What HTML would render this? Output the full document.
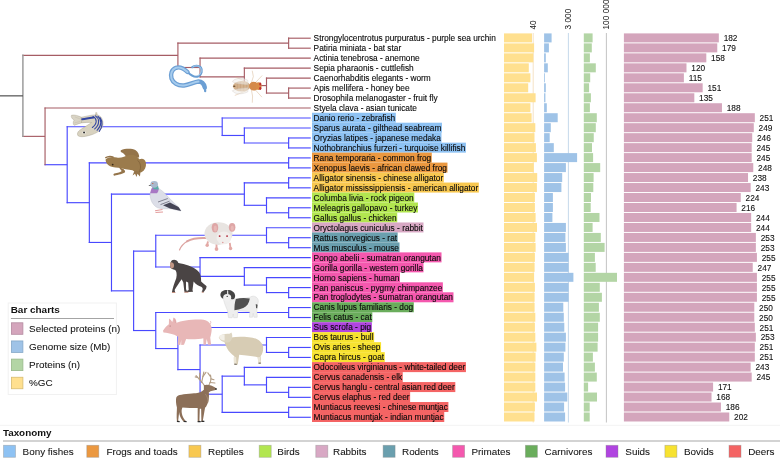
<!DOCTYPE html><html><head><meta charset="utf-8"><style>html,body{margin:0;padding:0;background:#fff;width:780px;height:462px;overflow:hidden}svg{display:block;will-change:transform}text{font-family:"Liberation Sans",sans-serif}</style></head><body>
<svg width="780" height="462" viewBox="0 0 780 462">
<line x1="288.06" y1="38.20" x2="310.80" y2="38.20" stroke="#a65c64" stroke-width="1.15"/>
<line x1="288.06" y1="48.18" x2="310.80" y2="48.18" stroke="#a65c64" stroke-width="1.15"/>
<line x1="288.64" y1="37.62" x2="288.64" y2="48.75" stroke="#a65c64" stroke-width="1.15"/>
<line x1="177.34" y1="43.19" x2="288.64" y2="43.19" stroke="#a65c64" stroke-width="1.15"/>
<line x1="199.49" y1="58.15" x2="310.80" y2="58.15" stroke="#a65c64" stroke-width="1.15"/>
<line x1="243.78" y1="68.13" x2="310.80" y2="68.13" stroke="#a65c64" stroke-width="1.15"/>
<line x1="265.92" y1="78.10" x2="310.80" y2="78.10" stroke="#a65c64" stroke-width="1.15"/>
<line x1="288.06" y1="88.08" x2="310.80" y2="88.08" stroke="#a65c64" stroke-width="1.15"/>
<line x1="288.06" y1="98.06" x2="310.80" y2="98.06" stroke="#a65c64" stroke-width="1.15"/>
<line x1="288.64" y1="87.50" x2="288.64" y2="98.63" stroke="#a65c64" stroke-width="1.15"/>
<line x1="265.92" y1="93.07" x2="288.64" y2="93.07" stroke="#a65c64" stroke-width="1.15"/>
<line x1="266.50" y1="77.53" x2="266.50" y2="93.64" stroke="#a65c64" stroke-width="1.15"/>
<line x1="243.78" y1="85.59" x2="266.50" y2="85.59" stroke="#a65c64" stroke-width="1.15"/>
<line x1="244.35" y1="67.55" x2="244.35" y2="86.16" stroke="#a65c64" stroke-width="1.15"/>
<line x1="199.49" y1="76.86" x2="244.35" y2="76.86" stroke="#a65c64" stroke-width="1.15"/>
<line x1="200.06" y1="57.58" x2="200.06" y2="77.43" stroke="#a65c64" stroke-width="1.15"/>
<line x1="177.34" y1="67.50" x2="200.06" y2="67.50" stroke="#a65c64" stroke-width="1.15"/>
<line x1="177.91" y1="42.61" x2="177.91" y2="68.08" stroke="#a65c64" stroke-width="1.15"/>
<line x1="22.32" y1="55.35" x2="177.91" y2="55.35" stroke="#a65c64" stroke-width="1.15"/>
<line x1="44.47" y1="108.03" x2="310.80" y2="108.03" stroke="#a65c64" stroke-width="1.15"/>
<line x1="221.63" y1="118.01" x2="310.80" y2="118.01" stroke="#4848ff" stroke-width="1.15"/>
<line x1="243.78" y1="127.98" x2="310.80" y2="127.98" stroke="#4848ff" stroke-width="1.15"/>
<line x1="288.06" y1="137.96" x2="310.80" y2="137.96" stroke="#4848ff" stroke-width="1.15"/>
<line x1="288.06" y1="147.94" x2="310.80" y2="147.94" stroke="#4848ff" stroke-width="1.15"/>
<line x1="288.64" y1="137.39" x2="288.64" y2="148.51" stroke="#4848ff" stroke-width="1.15"/>
<line x1="243.78" y1="142.95" x2="288.64" y2="142.95" stroke="#4848ff" stroke-width="1.15"/>
<line x1="244.35" y1="127.41" x2="244.35" y2="143.52" stroke="#4848ff" stroke-width="1.15"/>
<line x1="221.63" y1="135.47" x2="244.35" y2="135.47" stroke="#4848ff" stroke-width="1.15"/>
<line x1="222.21" y1="117.43" x2="222.21" y2="136.04" stroke="#4848ff" stroke-width="1.15"/>
<line x1="66.61" y1="126.74" x2="222.21" y2="126.74" stroke="#4848ff" stroke-width="1.15"/>
<line x1="288.06" y1="157.91" x2="310.80" y2="157.91" stroke="#4848ff" stroke-width="1.15"/>
<line x1="288.06" y1="167.89" x2="310.80" y2="167.89" stroke="#4848ff" stroke-width="1.15"/>
<line x1="288.64" y1="157.34" x2="288.64" y2="168.46" stroke="#4848ff" stroke-width="1.15"/>
<line x1="88.76" y1="162.90" x2="288.64" y2="162.90" stroke="#4848ff" stroke-width="1.15"/>
<line x1="288.06" y1="177.86" x2="310.80" y2="177.86" stroke="#4848ff" stroke-width="1.15"/>
<line x1="288.06" y1="187.84" x2="310.80" y2="187.84" stroke="#4848ff" stroke-width="1.15"/>
<line x1="288.64" y1="177.29" x2="288.64" y2="188.42" stroke="#4848ff" stroke-width="1.15"/>
<line x1="243.78" y1="182.85" x2="288.64" y2="182.85" stroke="#4848ff" stroke-width="1.15"/>
<line x1="265.92" y1="197.82" x2="310.80" y2="197.82" stroke="#4848ff" stroke-width="1.15"/>
<line x1="288.06" y1="207.79" x2="310.80" y2="207.79" stroke="#4848ff" stroke-width="1.15"/>
<line x1="288.06" y1="217.77" x2="310.80" y2="217.77" stroke="#4848ff" stroke-width="1.15"/>
<line x1="288.64" y1="207.22" x2="288.64" y2="218.34" stroke="#4848ff" stroke-width="1.15"/>
<line x1="265.92" y1="212.78" x2="288.64" y2="212.78" stroke="#4848ff" stroke-width="1.15"/>
<line x1="266.50" y1="197.24" x2="266.50" y2="213.36" stroke="#4848ff" stroke-width="1.15"/>
<line x1="243.78" y1="205.30" x2="266.50" y2="205.30" stroke="#4848ff" stroke-width="1.15"/>
<line x1="244.35" y1="182.28" x2="244.35" y2="205.87" stroke="#4848ff" stroke-width="1.15"/>
<line x1="110.90" y1="194.08" x2="244.35" y2="194.08" stroke="#4848ff" stroke-width="1.15"/>
<line x1="265.92" y1="227.74" x2="310.80" y2="227.74" stroke="#4848ff" stroke-width="1.15"/>
<line x1="288.06" y1="237.72" x2="310.80" y2="237.72" stroke="#4848ff" stroke-width="1.15"/>
<line x1="288.06" y1="247.70" x2="310.80" y2="247.70" stroke="#4848ff" stroke-width="1.15"/>
<line x1="288.64" y1="237.15" x2="288.64" y2="248.27" stroke="#4848ff" stroke-width="1.15"/>
<line x1="265.92" y1="242.71" x2="288.64" y2="242.71" stroke="#4848ff" stroke-width="1.15"/>
<line x1="266.50" y1="227.17" x2="266.50" y2="243.28" stroke="#4848ff" stroke-width="1.15"/>
<line x1="155.20" y1="235.23" x2="266.50" y2="235.23" stroke="#4848ff" stroke-width="1.15"/>
<line x1="199.49" y1="257.67" x2="310.80" y2="257.67" stroke="#4848ff" stroke-width="1.15"/>
<line x1="243.78" y1="267.65" x2="310.80" y2="267.65" stroke="#4848ff" stroke-width="1.15"/>
<line x1="265.92" y1="277.62" x2="310.80" y2="277.62" stroke="#4848ff" stroke-width="1.15"/>
<line x1="288.06" y1="287.60" x2="310.80" y2="287.60" stroke="#4848ff" stroke-width="1.15"/>
<line x1="288.06" y1="297.58" x2="310.80" y2="297.58" stroke="#4848ff" stroke-width="1.15"/>
<line x1="288.64" y1="287.03" x2="288.64" y2="298.15" stroke="#4848ff" stroke-width="1.15"/>
<line x1="265.92" y1="292.59" x2="288.64" y2="292.59" stroke="#4848ff" stroke-width="1.15"/>
<line x1="266.50" y1="277.05" x2="266.50" y2="293.16" stroke="#4848ff" stroke-width="1.15"/>
<line x1="243.78" y1="285.11" x2="266.50" y2="285.11" stroke="#4848ff" stroke-width="1.15"/>
<line x1="244.35" y1="267.07" x2="244.35" y2="285.68" stroke="#4848ff" stroke-width="1.15"/>
<line x1="199.49" y1="276.38" x2="244.35" y2="276.38" stroke="#4848ff" stroke-width="1.15"/>
<line x1="200.06" y1="257.10" x2="200.06" y2="276.95" stroke="#4848ff" stroke-width="1.15"/>
<line x1="155.20" y1="267.02" x2="200.06" y2="267.02" stroke="#4848ff" stroke-width="1.15"/>
<line x1="155.77" y1="234.65" x2="155.77" y2="267.60" stroke="#4848ff" stroke-width="1.15"/>
<line x1="133.05" y1="251.13" x2="155.77" y2="251.13" stroke="#4848ff" stroke-width="1.15"/>
<line x1="288.06" y1="307.55" x2="310.80" y2="307.55" stroke="#4848ff" stroke-width="1.15"/>
<line x1="288.06" y1="317.53" x2="310.80" y2="317.53" stroke="#4848ff" stroke-width="1.15"/>
<line x1="288.64" y1="306.98" x2="288.64" y2="318.10" stroke="#4848ff" stroke-width="1.15"/>
<line x1="155.20" y1="312.54" x2="288.64" y2="312.54" stroke="#4848ff" stroke-width="1.15"/>
<line x1="177.34" y1="327.50" x2="310.80" y2="327.50" stroke="#4848ff" stroke-width="1.15"/>
<line x1="265.92" y1="337.48" x2="310.80" y2="337.48" stroke="#4848ff" stroke-width="1.15"/>
<line x1="288.06" y1="347.46" x2="310.80" y2="347.46" stroke="#4848ff" stroke-width="1.15"/>
<line x1="288.06" y1="357.43" x2="310.80" y2="357.43" stroke="#4848ff" stroke-width="1.15"/>
<line x1="288.64" y1="346.88" x2="288.64" y2="358.01" stroke="#4848ff" stroke-width="1.15"/>
<line x1="265.92" y1="352.44" x2="288.64" y2="352.44" stroke="#4848ff" stroke-width="1.15"/>
<line x1="266.50" y1="336.91" x2="266.50" y2="353.02" stroke="#4848ff" stroke-width="1.15"/>
<line x1="199.49" y1="344.96" x2="266.50" y2="344.96" stroke="#4848ff" stroke-width="1.15"/>
<line x1="243.78" y1="367.41" x2="310.80" y2="367.41" stroke="#4848ff" stroke-width="1.15"/>
<line x1="265.92" y1="377.38" x2="310.80" y2="377.38" stroke="#4848ff" stroke-width="1.15"/>
<line x1="288.06" y1="387.36" x2="310.80" y2="387.36" stroke="#4848ff" stroke-width="1.15"/>
<line x1="288.06" y1="397.34" x2="310.80" y2="397.34" stroke="#4848ff" stroke-width="1.15"/>
<line x1="288.64" y1="386.79" x2="288.64" y2="397.91" stroke="#4848ff" stroke-width="1.15"/>
<line x1="265.92" y1="392.35" x2="288.64" y2="392.35" stroke="#4848ff" stroke-width="1.15"/>
<line x1="266.50" y1="376.81" x2="266.50" y2="392.92" stroke="#4848ff" stroke-width="1.15"/>
<line x1="243.78" y1="384.87" x2="266.50" y2="384.87" stroke="#4848ff" stroke-width="1.15"/>
<line x1="244.35" y1="366.83" x2="244.35" y2="385.44" stroke="#4848ff" stroke-width="1.15"/>
<line x1="221.63" y1="376.14" x2="244.35" y2="376.14" stroke="#4848ff" stroke-width="1.15"/>
<line x1="288.06" y1="407.31" x2="310.80" y2="407.31" stroke="#4848ff" stroke-width="1.15"/>
<line x1="288.06" y1="417.29" x2="310.80" y2="417.29" stroke="#4848ff" stroke-width="1.15"/>
<line x1="288.64" y1="406.74" x2="288.64" y2="417.86" stroke="#4848ff" stroke-width="1.15"/>
<line x1="221.63" y1="412.30" x2="288.64" y2="412.30" stroke="#4848ff" stroke-width="1.15"/>
<line x1="222.21" y1="375.56" x2="222.21" y2="412.88" stroke="#4848ff" stroke-width="1.15"/>
<line x1="199.49" y1="394.22" x2="222.21" y2="394.22" stroke="#4848ff" stroke-width="1.15"/>
<line x1="200.06" y1="344.39" x2="200.06" y2="394.79" stroke="#4848ff" stroke-width="1.15"/>
<line x1="177.34" y1="369.59" x2="200.06" y2="369.59" stroke="#4848ff" stroke-width="1.15"/>
<line x1="177.91" y1="326.93" x2="177.91" y2="370.17" stroke="#4848ff" stroke-width="1.15"/>
<line x1="155.20" y1="348.55" x2="177.91" y2="348.55" stroke="#4848ff" stroke-width="1.15"/>
<line x1="155.77" y1="311.97" x2="155.77" y2="349.12" stroke="#4848ff" stroke-width="1.15"/>
<line x1="133.05" y1="330.54" x2="155.77" y2="330.54" stroke="#4848ff" stroke-width="1.15"/>
<line x1="133.62" y1="250.55" x2="133.62" y2="331.12" stroke="#4848ff" stroke-width="1.15"/>
<line x1="110.90" y1="290.83" x2="133.62" y2="290.83" stroke="#4848ff" stroke-width="1.15"/>
<line x1="111.48" y1="193.50" x2="111.48" y2="291.41" stroke="#4848ff" stroke-width="1.15"/>
<line x1="88.76" y1="242.45" x2="111.48" y2="242.45" stroke="#4848ff" stroke-width="1.15"/>
<line x1="89.34" y1="162.33" x2="89.34" y2="243.03" stroke="#4848ff" stroke-width="1.15"/>
<line x1="66.61" y1="202.68" x2="89.34" y2="202.68" stroke="#4848ff" stroke-width="1.15"/>
<line x1="67.19" y1="126.16" x2="67.19" y2="203.25" stroke="#4848ff" stroke-width="1.15"/>
<line x1="44.47" y1="164.71" x2="67.19" y2="164.71" stroke="#4848ff" stroke-width="1.15"/>
<line x1="45.05" y1="107.46" x2="45.05" y2="165.28" stroke="#a65c64" stroke-width="1.15"/>
<line x1="22.32" y1="136.37" x2="45.05" y2="136.37" stroke="#a65c64" stroke-width="1.15"/>
<line x1="22.90" y1="54.60" x2="22.90" y2="137.12" stroke="#9c9c9c" stroke-width="1.5"/>
<line x1="-0.57" y1="95.86" x2="22.90" y2="95.86" stroke="#484848" stroke-width="1.15"/>
<rect x="312" y="112.72" width="83.83" height="10.00" fill="#8ec2f3"/>
<rect x="312" y="122.70" width="129.97" height="10.00" fill="#8ec2f3"/>
<rect x="312" y="132.67" width="129.48" height="10.00" fill="#8ec2f3"/>
<rect x="312" y="142.65" width="153.92" height="10.00" fill="#8ec2f3"/>
<rect x="312" y="152.62" width="119.79" height="10.00" fill="#eb9840"/>
<rect x="312" y="162.60" width="135.48" height="10.00" fill="#eb9840"/>
<rect x="312" y="172.58" width="131.79" height="10.00" fill="#f8c850"/>
<rect x="312" y="182.55" width="166.82" height="10.00" fill="#f8c850"/>
<rect x="312" y="192.53" width="102.28" height="10.00" fill="#b2e650"/>
<rect x="312" y="202.50" width="105.97" height="10.00" fill="#b2e650"/>
<rect x="312" y="212.48" width="85.22" height="10.00" fill="#b2e650"/>
<rect x="312" y="222.46" width="111.50" height="10.00" fill="#d8a8c4"/>
<rect x="312" y="232.43" width="85.67" height="10.00" fill="#6a9fae"/>
<rect x="312" y="242.41" width="87.51" height="10.00" fill="#6a9fae"/>
<rect x="312" y="252.38" width="129.51" height="10.00" fill="#f458ae"/>
<rect x="312" y="262.36" width="111.50" height="10.00" fill="#f458ae"/>
<rect x="312" y="272.34" width="87.98" height="10.00" fill="#f458ae"/>
<rect x="312" y="282.31" width="130.87" height="10.00" fill="#f458ae"/>
<rect x="312" y="292.29" width="141.50" height="10.00" fill="#f458ae"/>
<rect x="312" y="302.26" width="101.81" height="10.00" fill="#6aad5c"/>
<rect x="312" y="312.24" width="60.31" height="10.00" fill="#6aad5c"/>
<rect x="312" y="322.22" width="59.86" height="10.00" fill="#b044e0"/>
<rect x="312" y="332.19" width="62.15" height="10.00" fill="#f7e230"/>
<rect x="312" y="342.17" width="69.08" height="10.00" fill="#f7e230"/>
<rect x="312" y="352.14" width="72.76" height="10.00" fill="#f7e230"/>
<rect x="312" y="362.12" width="153.93" height="10.00" fill="#f46464"/>
<rect x="312" y="372.10" width="90.75" height="10.00" fill="#f46464"/>
<rect x="312" y="382.07" width="143.32" height="10.00" fill="#f46464"/>
<rect x="312" y="392.05" width="98.14" height="10.00" fill="#f46464"/>
<rect x="312" y="402.02" width="136.40" height="10.00" fill="#f46464"/>
<rect x="312" y="412.00" width="132.25" height="10.00" fill="#f46464"/>
<text x="313.6" y="41.10" font-size="8.3" fill="#0a0a0a" stroke="#0a0a0a" stroke-width="0.12">Strongylocentrotus purpuratus - purple sea urchin</text>
<text x="313.6" y="51.08" font-size="8.3" fill="#0a0a0a" stroke="#0a0a0a" stroke-width="0.12">Patiria miniata - bat star</text>
<text x="313.6" y="61.05" font-size="8.3" fill="#0a0a0a" stroke="#0a0a0a" stroke-width="0.12">Actinia tenebrosa - anemone</text>
<text x="313.6" y="71.03" font-size="8.3" fill="#0a0a0a" stroke="#0a0a0a" stroke-width="0.12">Sepia pharaonis - cuttlefish</text>
<text x="313.6" y="81.00" font-size="8.3" fill="#0a0a0a" stroke="#0a0a0a" stroke-width="0.12">Caenorhabditis elegants - worm</text>
<text x="313.6" y="90.98" font-size="8.3" fill="#0a0a0a" stroke="#0a0a0a" stroke-width="0.12">Apis mellifera - honey bee</text>
<text x="313.6" y="100.96" font-size="8.3" fill="#0a0a0a" stroke="#0a0a0a" stroke-width="0.12">Drosophila melanogaster - fruit fly</text>
<text x="313.6" y="110.93" font-size="8.3" fill="#0a0a0a" stroke="#0a0a0a" stroke-width="0.12">Styela clava - asian tunicate</text>
<text x="313.6" y="120.91" font-size="8.3" fill="#0a0a0a" stroke="#0a0a0a" stroke-width="0.12">Danio rerio - zebrafish</text>
<text x="313.6" y="130.88" font-size="8.3" fill="#0a0a0a" stroke="#0a0a0a" stroke-width="0.12">Sparus aurata - gilthead seabream</text>
<text x="313.6" y="140.86" font-size="8.3" fill="#0a0a0a" stroke="#0a0a0a" stroke-width="0.12">Oryzias latipes - japanese medaka</text>
<text x="313.6" y="150.84" font-size="8.3" fill="#0a0a0a" stroke="#0a0a0a" stroke-width="0.12">Nothobranchius furzeri - turquoise killifish</text>
<text x="313.6" y="160.81" font-size="8.3" fill="#0a0a0a" stroke="#0a0a0a" stroke-width="0.12">Rana temporaria - common frog</text>
<text x="313.6" y="170.79" font-size="8.3" fill="#0a0a0a" stroke="#0a0a0a" stroke-width="0.12">Xenopus laevis - african clawed frog</text>
<text x="313.6" y="180.76" font-size="8.3" fill="#0a0a0a" stroke="#0a0a0a" stroke-width="0.12">Alligator sinensis - chinese alligator</text>
<text x="313.6" y="190.74" font-size="8.3" fill="#0a0a0a" stroke="#0a0a0a" stroke-width="0.12">Alligator mississippiensis - american alligator</text>
<text x="313.6" y="200.72" font-size="8.3" fill="#0a0a0a" stroke="#0a0a0a" stroke-width="0.12">Columba livia - rock pigeon</text>
<text x="313.6" y="210.69" font-size="8.3" fill="#0a0a0a" stroke="#0a0a0a" stroke-width="0.12">Meleagris gallopavo - turkey</text>
<text x="313.6" y="220.67" font-size="8.3" fill="#0a0a0a" stroke="#0a0a0a" stroke-width="0.12">Gallus gallus - chicken</text>
<text x="313.6" y="230.64" font-size="8.3" fill="#0a0a0a" stroke="#0a0a0a" stroke-width="0.12">Oryctolagus cuniculus - rabbit</text>
<text x="313.6" y="240.62" font-size="8.3" fill="#0a0a0a" stroke="#0a0a0a" stroke-width="0.12">Rattus norvegicus - rat</text>
<text x="313.6" y="250.60" font-size="8.3" fill="#0a0a0a" stroke="#0a0a0a" stroke-width="0.12">Mus musculus - mouse</text>
<text x="313.6" y="260.57" font-size="8.3" fill="#0a0a0a" stroke="#0a0a0a" stroke-width="0.12">Pongo abelii - sumatran orangutan</text>
<text x="313.6" y="270.55" font-size="8.3" fill="#0a0a0a" stroke="#0a0a0a" stroke-width="0.12">Gorilla gorilla - western gorilla</text>
<text x="313.6" y="280.52" font-size="8.3" fill="#0a0a0a" stroke="#0a0a0a" stroke-width="0.12">Homo sapiens - human</text>
<text x="313.6" y="290.50" font-size="8.3" fill="#0a0a0a" stroke="#0a0a0a" stroke-width="0.12">Pan paniscus - pygmy chimpanzee</text>
<text x="313.6" y="300.48" font-size="8.3" fill="#0a0a0a" stroke="#0a0a0a" stroke-width="0.12">Pan troglodytes - sumatran orangutan</text>
<text x="313.6" y="310.45" font-size="8.3" fill="#0a0a0a" stroke="#0a0a0a" stroke-width="0.12">Canis lupus familiaris - dog</text>
<text x="313.6" y="320.43" font-size="8.3" fill="#0a0a0a" stroke="#0a0a0a" stroke-width="0.12">Felis catus - cat</text>
<text x="313.6" y="330.40" font-size="8.3" fill="#0a0a0a" stroke="#0a0a0a" stroke-width="0.12">Sus scrofa - pig</text>
<text x="313.6" y="340.38" font-size="8.3" fill="#0a0a0a" stroke="#0a0a0a" stroke-width="0.12">Bos taurus - bull</text>
<text x="313.6" y="350.36" font-size="8.3" fill="#0a0a0a" stroke="#0a0a0a" stroke-width="0.12">Ovis aries - sheep</text>
<text x="313.6" y="360.33" font-size="8.3" fill="#0a0a0a" stroke="#0a0a0a" stroke-width="0.12">Capra hircus - goat</text>
<text x="313.6" y="370.31" font-size="8.3" fill="#0a0a0a" stroke="#0a0a0a" stroke-width="0.12">Odocoileus virginianus - white-tailed deer</text>
<text x="313.6" y="380.28" font-size="8.3" fill="#0a0a0a" stroke="#0a0a0a" stroke-width="0.12">Cervus canadensis - elk</text>
<text x="313.6" y="390.26" font-size="8.3" fill="#0a0a0a" stroke="#0a0a0a" stroke-width="0.12">Cervus hanglu - central asian red deer</text>
<text x="313.6" y="400.24" font-size="8.3" fill="#0a0a0a" stroke="#0a0a0a" stroke-width="0.12">Cervus elaphus - red deer</text>
<text x="313.6" y="410.21" font-size="8.3" fill="#0a0a0a" stroke="#0a0a0a" stroke-width="0.12">Muntiacus reevesi - chinese muntjac</text>
<text x="313.6" y="420.19" font-size="8.3" fill="#0a0a0a" stroke="#0a0a0a" stroke-width="0.12">Muntiacus muntjak - indian muntjac</text>
<line x1="533.2" y1="33" x2="533.2" y2="422.5" stroke="#f2dcb8" stroke-width="0.8"/>
<line x1="568.4" y1="33" x2="568.4" y2="422.5" stroke="#b8cfe6" stroke-width="0.8"/>
<line x1="606.4" y1="33" x2="606.4" y2="422.5" stroke="#b5b5b5" stroke-width="0.8"/>
<rect x="504" y="33.40" width="28.00" height="9.0" fill="#ffe08f"/>
<rect x="544.1" y="33.40" width="7.50" height="9.0" fill="#9fc3e7"/>
<rect x="583.8" y="33.40" width="8.80" height="9.0" fill="#b3d5a5"/>
<rect x="623.9" y="33.40" width="94.93" height="9.0" fill="#d4a5bc"/>
<text x="723.63" y="41.20" font-size="8.3" fill="#111" stroke="#111" stroke-width="0.1">182</text>
<rect x="504" y="43.38" width="30.10" height="9.0" fill="#ffe08f"/>
<rect x="544.1" y="43.38" width="4.80" height="9.0" fill="#9fc3e7"/>
<rect x="583.8" y="43.38" width="8.00" height="9.0" fill="#b3d5a5"/>
<rect x="623.9" y="43.38" width="93.37" height="9.0" fill="#d4a5bc"/>
<text x="722.07" y="51.18" font-size="8.3" fill="#111" stroke="#111" stroke-width="0.1">179</text>
<rect x="504" y="53.35" width="29.30" height="9.0" fill="#ffe08f"/>
<rect x="544.1" y="53.35" width="1.70" height="9.0" fill="#9fc3e7"/>
<rect x="583.8" y="53.35" width="6.10" height="9.0" fill="#b3d5a5"/>
<rect x="623.9" y="53.35" width="82.41" height="9.0" fill="#d4a5bc"/>
<text x="711.11" y="61.15" font-size="8.3" fill="#111" stroke="#111" stroke-width="0.1">158</text>
<rect x="504" y="63.33" width="24.80" height="9.0" fill="#ffe08f"/>
<rect x="544.1" y="63.33" width="3.70" height="9.0" fill="#9fc3e7"/>
<rect x="583.8" y="63.33" width="12.00" height="9.0" fill="#b3d5a5"/>
<rect x="623.9" y="63.33" width="62.59" height="9.0" fill="#d4a5bc"/>
<text x="691.29" y="71.13" font-size="8.3" fill="#111" stroke="#111" stroke-width="0.1">120</text>
<rect x="504" y="73.30" width="26.40" height="9.0" fill="#ffe08f"/>
<rect x="544.1" y="73.30" width="0.80" height="9.0" fill="#9fc3e7"/>
<rect x="583.8" y="73.30" width="6.40" height="9.0" fill="#b3d5a5"/>
<rect x="623.9" y="73.30" width="59.98" height="9.0" fill="#d4a5bc"/>
<text x="688.68" y="81.10" font-size="8.3" fill="#111" stroke="#111" stroke-width="0.1">115</text>
<rect x="504" y="83.28" width="24.20" height="9.0" fill="#ffe08f"/>
<rect x="544.1" y="83.28" width="1.70" height="9.0" fill="#9fc3e7"/>
<rect x="583.8" y="83.28" width="5.30" height="9.0" fill="#b3d5a5"/>
<rect x="623.9" y="83.28" width="78.76" height="9.0" fill="#d4a5bc"/>
<text x="707.46" y="91.08" font-size="8.3" fill="#111" stroke="#111" stroke-width="0.1">151</text>
<rect x="504" y="93.26" width="31.60" height="9.0" fill="#ffe08f"/>
<rect x="544.1" y="93.26" width="1.30" height="9.0" fill="#9fc3e7"/>
<rect x="583.8" y="93.26" width="7.10" height="9.0" fill="#b3d5a5"/>
<rect x="623.9" y="93.26" width="70.42" height="9.0" fill="#d4a5bc"/>
<text x="699.12" y="101.06" font-size="8.3" fill="#111" stroke="#111" stroke-width="0.1">135</text>
<rect x="504" y="103.23" width="26.40" height="9.0" fill="#ffe08f"/>
<rect x="544.1" y="103.23" width="2.70" height="9.0" fill="#9fc3e7"/>
<rect x="583.8" y="103.23" width="6.10" height="9.0" fill="#b3d5a5"/>
<rect x="623.9" y="103.23" width="98.06" height="9.0" fill="#d4a5bc"/>
<text x="726.76" y="111.03" font-size="8.3" fill="#111" stroke="#111" stroke-width="0.1">188</text>
<rect x="504" y="113.21" width="27.60" height="9.0" fill="#ffe08f"/>
<rect x="544.1" y="113.21" width="13.60" height="9.0" fill="#9fc3e7"/>
<rect x="583.8" y="113.21" width="13.00" height="9.0" fill="#b3d5a5"/>
<rect x="623.9" y="113.21" width="130.92" height="9.0" fill="#d4a5bc"/>
<text x="759.62" y="121.01" font-size="8.3" fill="#111" stroke="#111" stroke-width="0.1">251</text>
<rect x="504" y="123.18" width="31.30" height="9.0" fill="#ffe08f"/>
<rect x="544.1" y="123.18" width="6.70" height="9.0" fill="#9fc3e7"/>
<rect x="583.8" y="123.18" width="12.00" height="9.0" fill="#b3d5a5"/>
<rect x="623.9" y="123.18" width="129.88" height="9.0" fill="#d4a5bc"/>
<text x="758.58" y="130.98" font-size="8.3" fill="#111" stroke="#111" stroke-width="0.1">249</text>
<rect x="504" y="133.16" width="30.50" height="9.0" fill="#ffe08f"/>
<rect x="544.1" y="133.16" width="5.60" height="9.0" fill="#9fc3e7"/>
<rect x="583.8" y="133.16" width="9.95" height="9.0" fill="#b3d5a5"/>
<rect x="623.9" y="133.16" width="128.31" height="9.0" fill="#d4a5bc"/>
<text x="757.01" y="140.96" font-size="8.3" fill="#111" stroke="#111" stroke-width="0.1">246</text>
<rect x="504" y="143.14" width="31.90" height="9.0" fill="#ffe08f"/>
<rect x="544.1" y="143.14" width="9.70" height="9.0" fill="#9fc3e7"/>
<rect x="583.8" y="143.14" width="8.20" height="9.0" fill="#b3d5a5"/>
<rect x="623.9" y="143.14" width="127.79" height="9.0" fill="#d4a5bc"/>
<text x="756.49" y="150.94" font-size="8.3" fill="#111" stroke="#111" stroke-width="0.1">245</text>
<rect x="504" y="153.11" width="32.90" height="9.0" fill="#ffe08f"/>
<rect x="544.1" y="153.11" width="33.00" height="9.0" fill="#9fc3e7"/>
<rect x="583.8" y="153.11" width="9.30" height="9.0" fill="#b3d5a5"/>
<rect x="623.9" y="153.11" width="127.79" height="9.0" fill="#d4a5bc"/>
<text x="756.49" y="160.91" font-size="8.3" fill="#111" stroke="#111" stroke-width="0.1">245</text>
<rect x="504" y="163.09" width="29.80" height="9.0" fill="#ffe08f"/>
<rect x="544.1" y="163.09" width="21.80" height="9.0" fill="#9fc3e7"/>
<rect x="583.8" y="163.09" width="16.40" height="9.0" fill="#b3d5a5"/>
<rect x="623.9" y="163.09" width="129.36" height="9.0" fill="#d4a5bc"/>
<text x="758.06" y="170.89" font-size="8.3" fill="#111" stroke="#111" stroke-width="0.1">248</text>
<rect x="504" y="173.06" width="33.20" height="9.0" fill="#ffe08f"/>
<rect x="544.1" y="173.06" width="18.10" height="9.0" fill="#9fc3e7"/>
<rect x="583.8" y="173.06" width="9.80" height="9.0" fill="#b3d5a5"/>
<rect x="623.9" y="173.06" width="124.14" height="9.0" fill="#d4a5bc"/>
<text x="752.84" y="180.86" font-size="8.3" fill="#111" stroke="#111" stroke-width="0.1">238</text>
<rect x="504" y="183.04" width="32.90" height="9.0" fill="#ffe08f"/>
<rect x="544.1" y="183.04" width="17.30" height="9.0" fill="#9fc3e7"/>
<rect x="583.8" y="183.04" width="9.50" height="9.0" fill="#b3d5a5"/>
<rect x="623.9" y="183.04" width="126.75" height="9.0" fill="#d4a5bc"/>
<text x="755.45" y="190.84" font-size="8.3" fill="#111" stroke="#111" stroke-width="0.1">243</text>
<rect x="504" y="193.02" width="30.90" height="9.0" fill="#ffe08f"/>
<rect x="544.1" y="193.02" width="8.80" height="9.0" fill="#9fc3e7"/>
<rect x="583.8" y="193.02" width="7.20" height="9.0" fill="#b3d5a5"/>
<rect x="623.9" y="193.02" width="116.84" height="9.0" fill="#d4a5bc"/>
<text x="745.54" y="200.82" font-size="8.3" fill="#111" stroke="#111" stroke-width="0.1">224</text>
<rect x="504" y="202.99" width="30.90" height="9.0" fill="#ffe08f"/>
<rect x="544.1" y="202.99" width="8.80" height="9.0" fill="#9fc3e7"/>
<rect x="583.8" y="202.99" width="6.90" height="9.0" fill="#b3d5a5"/>
<rect x="623.9" y="202.99" width="112.67" height="9.0" fill="#d4a5bc"/>
<text x="741.37" y="210.79" font-size="8.3" fill="#111" stroke="#111" stroke-width="0.1">216</text>
<rect x="504" y="212.97" width="31.60" height="9.0" fill="#ffe08f"/>
<rect x="544.1" y="212.97" width="8.30" height="9.0" fill="#9fc3e7"/>
<rect x="583.8" y="212.97" width="15.70" height="9.0" fill="#b3d5a5"/>
<rect x="623.9" y="212.97" width="127.27" height="9.0" fill="#d4a5bc"/>
<text x="755.97" y="220.77" font-size="8.3" fill="#111" stroke="#111" stroke-width="0.1">244</text>
<rect x="504" y="222.94" width="33.00" height="9.0" fill="#ffe08f"/>
<rect x="544.1" y="222.94" width="21.80" height="9.0" fill="#9fc3e7"/>
<rect x="583.8" y="222.94" width="8.80" height="9.0" fill="#b3d5a5"/>
<rect x="623.9" y="222.94" width="127.27" height="9.0" fill="#d4a5bc"/>
<text x="755.97" y="230.74" font-size="8.3" fill="#111" stroke="#111" stroke-width="0.1">244</text>
<rect x="504" y="232.92" width="31.30" height="9.0" fill="#ffe08f"/>
<rect x="544.1" y="232.92" width="21.30" height="9.0" fill="#9fc3e7"/>
<rect x="583.8" y="232.92" width="17.00" height="9.0" fill="#b3d5a5"/>
<rect x="623.9" y="232.92" width="131.96" height="9.0" fill="#d4a5bc"/>
<text x="760.66" y="240.72" font-size="8.3" fill="#111" stroke="#111" stroke-width="0.1">253</text>
<rect x="504" y="242.90" width="31.60" height="9.0" fill="#ffe08f"/>
<rect x="544.1" y="242.90" width="21.80" height="9.0" fill="#9fc3e7"/>
<rect x="583.8" y="242.90" width="20.80" height="9.0" fill="#b3d5a5"/>
<rect x="623.9" y="242.90" width="131.96" height="9.0" fill="#d4a5bc"/>
<text x="760.66" y="250.70" font-size="8.3" fill="#111" stroke="#111" stroke-width="0.1">253</text>
<rect x="504" y="252.87" width="30.90" height="9.0" fill="#ffe08f"/>
<rect x="544.1" y="252.87" width="24.50" height="9.0" fill="#9fc3e7"/>
<rect x="583.8" y="252.87" width="11.10" height="9.0" fill="#b3d5a5"/>
<rect x="623.9" y="252.87" width="133.01" height="9.0" fill="#d4a5bc"/>
<text x="761.71" y="260.67" font-size="8.3" fill="#111" stroke="#111" stroke-width="0.1">255</text>
<rect x="504" y="262.85" width="30.60" height="9.0" fill="#ffe08f"/>
<rect x="544.1" y="262.85" width="24.50" height="9.0" fill="#9fc3e7"/>
<rect x="583.8" y="262.85" width="11.90" height="9.0" fill="#b3d5a5"/>
<rect x="623.9" y="262.85" width="128.84" height="9.0" fill="#d4a5bc"/>
<text x="757.54" y="270.65" font-size="8.3" fill="#111" stroke="#111" stroke-width="0.1">247</text>
<rect x="504" y="272.82" width="30.10" height="9.0" fill="#ffe08f"/>
<rect x="544.1" y="272.82" width="29.30" height="9.0" fill="#9fc3e7"/>
<rect x="583.8" y="272.82" width="33.20" height="9.0" fill="#b3d5a5"/>
<rect x="623.9" y="272.82" width="133.01" height="9.0" fill="#d4a5bc"/>
<text x="761.71" y="280.62" font-size="8.3" fill="#111" stroke="#111" stroke-width="0.1">255</text>
<rect x="504" y="282.80" width="30.90" height="9.0" fill="#ffe08f"/>
<rect x="544.1" y="282.80" width="24.50" height="9.0" fill="#9fc3e7"/>
<rect x="583.8" y="282.80" width="16.00" height="9.0" fill="#b3d5a5"/>
<rect x="623.9" y="282.80" width="133.01" height="9.0" fill="#d4a5bc"/>
<text x="761.71" y="290.60" font-size="8.3" fill="#111" stroke="#111" stroke-width="0.1">255</text>
<rect x="504" y="292.78" width="30.60" height="9.0" fill="#ffe08f"/>
<rect x="544.1" y="292.78" width="24.50" height="9.0" fill="#9fc3e7"/>
<rect x="583.8" y="292.78" width="18.10" height="9.0" fill="#b3d5a5"/>
<rect x="623.9" y="292.78" width="133.01" height="9.0" fill="#d4a5bc"/>
<text x="761.71" y="300.58" font-size="8.3" fill="#111" stroke="#111" stroke-width="0.1">255</text>
<rect x="504" y="302.75" width="30.60" height="9.0" fill="#ffe08f"/>
<rect x="544.1" y="302.75" width="19.20" height="9.0" fill="#9fc3e7"/>
<rect x="583.8" y="302.75" width="15.10" height="9.0" fill="#b3d5a5"/>
<rect x="623.9" y="302.75" width="130.40" height="9.0" fill="#d4a5bc"/>
<text x="759.10" y="310.55" font-size="8.3" fill="#111" stroke="#111" stroke-width="0.1">250</text>
<rect x="504" y="312.73" width="31.30" height="9.0" fill="#ffe08f"/>
<rect x="544.1" y="312.73" width="19.70" height="9.0" fill="#9fc3e7"/>
<rect x="583.8" y="312.73" width="16.00" height="9.0" fill="#b3d5a5"/>
<rect x="623.9" y="312.73" width="130.40" height="9.0" fill="#d4a5bc"/>
<text x="759.10" y="320.53" font-size="8.3" fill="#111" stroke="#111" stroke-width="0.1">250</text>
<rect x="504" y="322.70" width="30.90" height="9.0" fill="#ffe08f"/>
<rect x="544.1" y="322.70" width="20.20" height="9.0" fill="#9fc3e7"/>
<rect x="583.8" y="322.70" width="14.30" height="9.0" fill="#b3d5a5"/>
<rect x="623.9" y="322.70" width="130.92" height="9.0" fill="#d4a5bc"/>
<text x="759.62" y="330.50" font-size="8.3" fill="#111" stroke="#111" stroke-width="0.1">251</text>
<rect x="504" y="332.68" width="31.30" height="9.0" fill="#ffe08f"/>
<rect x="544.1" y="332.68" width="21.80" height="9.0" fill="#9fc3e7"/>
<rect x="583.8" y="332.68" width="14.30" height="9.0" fill="#b3d5a5"/>
<rect x="623.9" y="332.68" width="131.96" height="9.0" fill="#d4a5bc"/>
<text x="760.66" y="340.48" font-size="8.3" fill="#111" stroke="#111" stroke-width="0.1">253</text>
<rect x="504" y="342.66" width="32.40" height="9.0" fill="#ffe08f"/>
<rect x="544.1" y="342.66" width="21.30" height="9.0" fill="#9fc3e7"/>
<rect x="583.8" y="342.66" width="13.80" height="9.0" fill="#b3d5a5"/>
<rect x="623.9" y="342.66" width="130.92" height="9.0" fill="#d4a5bc"/>
<text x="759.62" y="350.46" font-size="8.3" fill="#111" stroke="#111" stroke-width="0.1">251</text>
<rect x="504" y="352.63" width="31.60" height="9.0" fill="#ffe08f"/>
<rect x="544.1" y="352.63" width="19.70" height="9.0" fill="#9fc3e7"/>
<rect x="583.8" y="352.63" width="9.10" height="9.0" fill="#b3d5a5"/>
<rect x="623.9" y="352.63" width="130.92" height="9.0" fill="#d4a5bc"/>
<text x="759.62" y="360.43" font-size="8.3" fill="#111" stroke="#111" stroke-width="0.1">251</text>
<rect x="504" y="362.61" width="31.30" height="9.0" fill="#ffe08f"/>
<rect x="544.1" y="362.61" width="18.90" height="9.0" fill="#9fc3e7"/>
<rect x="583.8" y="362.61" width="11.10" height="9.0" fill="#b3d5a5"/>
<rect x="623.9" y="362.61" width="126.75" height="9.0" fill="#d4a5bc"/>
<text x="755.45" y="370.41" font-size="8.3" fill="#111" stroke="#111" stroke-width="0.1">243</text>
<rect x="504" y="372.58" width="31.30" height="9.0" fill="#ffe08f"/>
<rect x="544.1" y="372.58" width="20.50" height="9.0" fill="#9fc3e7"/>
<rect x="583.8" y="372.58" width="13.00" height="9.0" fill="#b3d5a5"/>
<rect x="623.9" y="372.58" width="127.79" height="9.0" fill="#d4a5bc"/>
<text x="756.49" y="380.38" font-size="8.3" fill="#111" stroke="#111" stroke-width="0.1">245</text>
<rect x="504" y="382.56" width="31.30" height="9.0" fill="#ffe08f"/>
<rect x="544.1" y="382.56" width="21.00" height="9.0" fill="#9fc3e7"/>
<rect x="583.8" y="382.56" width="4.30" height="9.0" fill="#b3d5a5"/>
<rect x="623.9" y="382.56" width="89.19" height="9.0" fill="#d4a5bc"/>
<text x="717.89" y="390.36" font-size="8.3" fill="#111" stroke="#111" stroke-width="0.1">171</text>
<rect x="504" y="392.54" width="33.00" height="9.0" fill="#ffe08f"/>
<rect x="544.1" y="392.54" width="23.20" height="9.0" fill="#9fc3e7"/>
<rect x="583.8" y="392.54" width="13.20" height="9.0" fill="#b3d5a5"/>
<rect x="623.9" y="392.54" width="87.63" height="9.0" fill="#d4a5bc"/>
<text x="716.33" y="400.34" font-size="8.3" fill="#111" stroke="#111" stroke-width="0.1">168</text>
<rect x="504" y="402.51" width="30.90" height="9.0" fill="#ffe08f"/>
<rect x="544.1" y="402.51" width="20.00" height="9.0" fill="#9fc3e7"/>
<rect x="583.8" y="402.51" width="5.90" height="9.0" fill="#b3d5a5"/>
<rect x="623.9" y="402.51" width="97.02" height="9.0" fill="#d4a5bc"/>
<text x="725.72" y="410.31" font-size="8.3" fill="#111" stroke="#111" stroke-width="0.1">186</text>
<rect x="504" y="412.49" width="30.50" height="9.0" fill="#ffe08f"/>
<rect x="544.1" y="412.49" width="21.00" height="9.0" fill="#9fc3e7"/>
<rect x="583.8" y="412.49" width="5.90" height="9.0" fill="#b3d5a5"/>
<rect x="623.9" y="412.49" width="105.36" height="9.0" fill="#d4a5bc"/>
<text x="734.06" y="420.29" font-size="8.3" fill="#111" stroke="#111" stroke-width="0.1">202</text>
<text transform="translate(536.20,29.5) rotate(-90)" font-size="8.3" fill="#222">40</text>
<text transform="translate(571.40,29.5) rotate(-90)" font-size="8.3" fill="#222">3 000</text>
<text transform="translate(609.40,29.5) rotate(-90)" font-size="8.3" fill="#222">100 000</text>
<line x1="0" y1="425.3" x2="780" y2="425.3" stroke="#f3f3f3" stroke-width="1"/>
<rect x="8.2" y="303" width="108.2" height="91.5" fill="#fff" stroke="#f1f1f1" stroke-width="1"/>
<text x="10.7" y="313.2" font-size="9.95" font-weight="bold" fill="#111">Bar charts</text>
<line x1="10.9" y1="318.5" x2="114" y2="318.5" stroke="#a4a4a4" stroke-width="1"/>
<rect x="11.4" y="322.80" width="11.5" height="11.5" fill="#d4a5bc" stroke="#b48aa0" stroke-width="0.8"/>
<text x="29.1" y="332.00" font-size="9.9" fill="#151515" stroke="#151515" stroke-width="0.08">Selected proteins (n)</text>
<rect x="11.4" y="340.95" width="11.5" height="11.5" fill="#9fc3e7" stroke="#85a8c8" stroke-width="0.8"/>
<text x="29.1" y="350.15" font-size="9.9" fill="#151515" stroke="#151515" stroke-width="0.08">Genome size (Mb)</text>
<rect x="11.4" y="359.10" width="11.5" height="11.5" fill="#b3d5a5" stroke="#98b88a" stroke-width="0.8"/>
<text x="29.1" y="368.30" font-size="9.9" fill="#151515" stroke="#151515" stroke-width="0.08">Proteins (n)</text>
<rect x="11.4" y="377.25" width="11.5" height="11.5" fill="#ffe08f" stroke="#d8bc70" stroke-width="0.8"/>
<text x="29.1" y="386.45" font-size="9.9" fill="#151515" stroke="#151515" stroke-width="0.08">%GC</text>
<text x="2.9" y="435.9" font-size="9.85" font-weight="bold" fill="#111">Taxonomy</text>
<line x1="3" y1="440.9" x2="780" y2="440.9" stroke="#c4c4c4" stroke-width="1.5"/>
<rect x="3.50" y="445.3" width="12" height="12" fill="#8ec2f3" stroke="#888" stroke-opacity="0.45" stroke-width="0.8"/>
<text x="22.60" y="455" font-size="9.9" fill="#151515" stroke="#151515" stroke-width="0.08">Bony fishes</text>
<rect x="86.80" y="445.3" width="12" height="12" fill="#eb9840" stroke="#888" stroke-opacity="0.45" stroke-width="0.8"/>
<text x="106.40" y="455" font-size="9.9" fill="#151515" stroke="#151515" stroke-width="0.08">Frogs and toads</text>
<rect x="188.90" y="445.3" width="12" height="12" fill="#f8c850" stroke="#888" stroke-opacity="0.45" stroke-width="0.8"/>
<text x="208.00" y="455" font-size="9.9" fill="#151515" stroke="#151515" stroke-width="0.08">Reptiles</text>
<rect x="259.20" y="445.3" width="12" height="12" fill="#b2e650" stroke="#888" stroke-opacity="0.45" stroke-width="0.8"/>
<text x="277.30" y="455" font-size="9.9" fill="#151515" stroke="#151515" stroke-width="0.08">Birds</text>
<rect x="315.80" y="445.3" width="12" height="12" fill="#d8a8c4" stroke="#888" stroke-opacity="0.45" stroke-width="0.8"/>
<text x="333.00" y="455" font-size="9.9" fill="#151515" stroke="#151515" stroke-width="0.08">Rabbits</text>
<rect x="383.10" y="445.3" width="12" height="12" fill="#6a9fae" stroke="#888" stroke-opacity="0.45" stroke-width="0.8"/>
<text x="402.00" y="455" font-size="9.9" fill="#151515" stroke="#151515" stroke-width="0.08">Rodents</text>
<rect x="452.60" y="445.3" width="12" height="12" fill="#f458ae" stroke="#888" stroke-opacity="0.45" stroke-width="0.8"/>
<text x="471.40" y="455" font-size="9.9" fill="#151515" stroke="#151515" stroke-width="0.08">Primates</text>
<rect x="525.40" y="445.3" width="12" height="12" fill="#6aad5c" stroke="#888" stroke-opacity="0.45" stroke-width="0.8"/>
<text x="544.60" y="455" font-size="9.9" fill="#151515" stroke="#151515" stroke-width="0.08">Carnivores</text>
<rect x="606.00" y="445.3" width="12" height="12" fill="#b044e0" stroke="#888" stroke-opacity="0.45" stroke-width="0.8"/>
<text x="625.30" y="455" font-size="9.9" fill="#151515" stroke="#151515" stroke-width="0.08">Suids</text>
<rect x="664.90" y="445.3" width="12" height="12" fill="#f7e230" stroke="#888" stroke-opacity="0.45" stroke-width="0.8"/>
<text x="684.00" y="455" font-size="9.9" fill="#151515" stroke="#151515" stroke-width="0.08">Bovids</text>
<rect x="729.00" y="445.3" width="12" height="12" fill="#f46464" stroke="#888" stroke-opacity="0.45" stroke-width="0.8"/>
<text x="748.20" y="455" font-size="9.9" fill="#151515" stroke="#151515" stroke-width="0.08">Deers</text>
<g id="worm" fill="none" stroke-linecap="round" stroke-linejoin="round">
<path d="M192.3,67.2 C194,65.8 198.5,64.8 200.8,67.5 C202.6,70 201.8,74.5 198.5,76.2 C195,77.8 191,75.5 187.5,72 C184,68.7 180,66.5 176,67.8 C171.5,69.5 170.2,74.5 171.5,78.5 C173,83 178,86 184,85.5 C189,85 194,82 198.5,81.5 C203,81.5 205.5,85 205.2,91.2" stroke="#6a9ed3" stroke-width="2.2"/>
<path d="M187.5,72 C184,68.7 180,66.5 176,67.8 C171.5,69.5 170.2,74.5 171.5,78.5 C173,83 178,86 184,85.5 C189,85 194,82 198.5,81.5 C202,81.5 204,84 204.8,87.5" stroke="#6c9fd4" stroke-width="4.4"/>
<path d="M187.5,72 C184,68.7 180,66.5 176,67.8 C171.5,69.5 170.2,74.5 171.5,78.5 C173,83 178,86 184,85.5 C189,85 194,82 198.5,81.5" stroke="#a6ccee" stroke-width="2.0"/>
<path d="M193,66.8 C195,65.6 198.5,65.2 200.5,67.8 C202,70.2 201.2,74 198.5,75.5" stroke="#b8d8f2" stroke-width="0.8"/>
</g>
<g id="fly" transform="translate(228,68) scale(0.07794)">
<g stroke="#d8b894" stroke-width="6.5" fill="none" stroke-linecap="round">
<path d="M300,190 L325,110 L312,40"/><path d="M350,190 L435,100"/><path d="M300,280 L315,360 L312,440"/><path d="M350,280 L432,370"/>
<path d="M240,180 L105,118"/><path d="M240,290 L92,350"/>
</g>
<ellipse cx="175" cy="234" rx="112" ry="66" fill="#d4b28d"/>
<path d="M120,182 L120,286 M160,176 L160,292 M200,176 L200,292 M240,182 L240,286" stroke="#c29c78" stroke-width="7"/>
<ellipse cx="80" cy="234" rx="16" ry="10" fill="#6e5030"/>
<path d="M55,175 C85,128 180,118 255,158 L255,212 C180,205 100,205 55,175 Z" fill="#f1eeeb" fill-opacity="0.55" stroke="#d3ccc6" stroke-width="5"/>
<path d="M55,292 C85,338 180,345 255,305 L255,252 C180,262 100,262 55,292 Z" fill="#f1eeeb" fill-opacity="0.55" stroke="#cfc8c2" stroke-width="5"/>
<ellipse cx="330" cy="232" rx="60" ry="56" fill="#d48a4a"/>
<ellipse cx="393" cy="232" rx="38" ry="50" fill="#d98c46"/>
<ellipse cx="414" cy="205" rx="14" ry="20" fill="#c02e30"/>
<ellipse cx="414" cy="261" rx="14" ry="20" fill="#c02e30"/>
</g>
<g id="fish" transform="translate(68,108) scale(0.06920)">
<path d="M195,135 C150,110 90,95 50,105 C40,130 60,160 90,175 C70,195 70,240 90,250 C130,235 170,220 195,215 Z" fill="#d9d4c5" stroke="#aaa390" stroke-width="6"/>
<path d="M100,130 L180,160 M95,215 L175,195" stroke="#c0b9a6" stroke-width="6"/>
<path d="M390,100 L400,58 L422,66 L428,108 Z" fill="#cfc8b5"/>
<path d="M190,135 C260,120 350,95 420,100 C480,110 510,170 505,240 C500,300 440,350 360,380 C290,405 210,425 160,410 C125,395 130,350 170,320 C230,280 300,240 340,210 C300,205 240,210 195,215 Z" fill="#d8d2c0" stroke="#a39c88" stroke-width="6"/>
<g stroke="#3446a2" stroke-width="16" fill="none" stroke-linecap="round">
<path d="M205,162 C260,156 320,146 368,138" stroke-width="28"/>
<path d="M362,122 C420,152 428,228 352,282"/>
<path d="M396,114 C455,152 463,235 386,302"/>
<path d="M432,120 C490,166 490,255 420,322"/>
<path d="M466,142 C505,196 498,280 452,338"/>
</g>
<circle cx="232" cy="355" r="24" fill="#f4f1ea"/>
<circle cx="232" cy="355" r="14" fill="#222"/>
</g>
<g id="frog" transform="translate(102,144) scale(0.08217)">
<path d="M230,75 C280,55 360,50 410,75 C440,95 455,130 452,165 L300,165 C280,125 250,105 235,100 C225,90 225,80 230,75 Z" fill="#94744a"/>
<path d="M45,185 C80,160 130,150 180,165 C230,175 280,150 330,135 C380,120 430,150 455,185 C490,170 525,180 535,230 C540,280 520,320 480,345 C440,355 400,340 370,320 C320,315 260,305 200,290 C150,285 100,280 75,255 C55,235 40,210 45,185 Z" fill="#9b7b4c"/>
<path d="M210,285 C250,295 290,315 280,345 C260,365 200,375 150,385 C135,380 135,365 150,358 C190,355 230,345 240,330 C230,315 215,300 210,285 Z" fill="#94744a"/>
<path d="M395,325 L372,382 L402,362 L420,402 L432,362 L462,395 L468,340 Z" fill="#94744a"/>
<path d="M40,170 C70,150 110,150 140,160" stroke="#94744a" stroke-width="18" fill="none"/>
<path d="M430,195 C470,225 482,290 452,340" stroke="#7a5c36" stroke-width="8" fill="none"/>
<circle cx="130" cy="250" r="11" fill="#3a2a18"/>
</g>
<g id="pigeon">
<path d="M150.2,192.8 C149.8,197 151,204 157.1,207.6 C161,209 166,209 170,208.6 L181,211 L178.5,207 C174,203 170,199 165,193.5 C162,190.5 159,188.5 158,187.9 Z" fill="#dcdee8" stroke="#b8bac8" stroke-width="0.4"/>
<path d="M163,205.2 L170,202.6 L178.5,207 L181.2,211 L170,208.6 Z" fill="#454556"/>
<path d="M158,202 L167.8,198.5 M160.5,204.6 L169.5,201.2" stroke="#6a6a7a" stroke-width="0.8"/>
<path d="M150.2,193.2 C150.5,190 152,187.5 153,186.5 L158.2,187.8 C158.8,190 158.5,191.5 157,193.2 Z" fill="#a878c4"/>
<path d="M152.5,185.6 L158,185.5 L158.8,189.5 L153.5,189.2 Z" fill="#58aea6"/>
<ellipse cx="154.2" cy="184.3" rx="3.8" ry="3.4" fill="#a9b9cd"/>
<path d="M150.5,184.8 L148.3,185.5 L150.6,186" fill="#333"/>
<circle cx="152.8" cy="183.5" r="0.6" fill="#d05020"/>
<path d="M155,210.8 L162.5,209.5 M155.5,212.5 L163,212" stroke="#e09090" stroke-width="0.9"/>
</g>
<g id="rat" transform="translate(176,218) scale(0.07794)">
<path d="M380,258 C300,255 200,268 140,300" stroke="#dca3a0" stroke-width="26" fill="none" stroke-linecap="round"/><path d="M150,295 C90,330 60,370 45,410" stroke="#dca3a0" stroke-width="16" fill="none" stroke-linecap="round"/><path d="M410,300 L400,350 M520,330 L520,398 M690,320 L700,392" stroke="#e3a9a5" stroke-width="24"/>
<circle cx="400" cy="350" r="22" fill="#e3a9a5"/><circle cx="520" cy="398" r="24" fill="#e3a9a5"/><circle cx="700" cy="392" r="22" fill="#e3a9a5"/>
<ellipse cx="545" cy="200" rx="180" ry="145" fill="#e8e4e1"/>
<ellipse cx="615" cy="255" rx="95" ry="82" fill="#f1eeec"/>
<ellipse cx="500" cy="125" rx="42" ry="62" fill="#dea6a6"/>
<ellipse cx="720" cy="120" rx="42" ry="57" fill="#dea6a6"/><ellipse cx="505" cy="135" rx="20" ry="38" fill="#e8b8b6"/><ellipse cx="722" cy="130" rx="20" ry="34" fill="#e8b8b6"/>
<circle cx="560" cy="232" r="12" fill="#b02a3a"/><circle cx="655" cy="232" r="12" fill="#b02a3a"/>
<circle cx="600" cy="315" r="10" fill="#e09a9a"/>
</g>
<g id="chimp" transform="translate(160,250) scale(0.10834)">
<path d="M110,95 C130,85 160,90 170,120 C230,130 300,150 340,185 C370,205 380,240 380,290 C400,310 420,320 430,335 C430,360 410,380 400,390 L385,385 C395,370 400,350 380,340 C360,330 330,320 310,290 L300,370 L305,385 L225,390 C235,380 260,375 265,370 L260,300 L240,290 L240,360 L250,385 L225,385 L215,300 L200,270 C180,300 150,340 135,370 L140,390 L110,390 C115,360 130,310 150,260 C160,220 150,195 140,185 C120,180 100,175 95,160 C90,140 95,110 110,95 Z" fill="#4a4444"/>
<path d="M95,115 C110,110 130,120 130,140 C130,160 120,175 100,170 C92,150 90,130 95,115 Z" fill="#c19684"/>
<path d="M110,392 L142,392 M225,390 L262,390 M385,388 L402,392" stroke="#c49080" stroke-width="10"/>
</g>
<g id="dog" transform="translate(216,286) scale(0.07358)">
<path d="M100,180 C120,200 160,200 200,190 C240,175 300,170 380,165 C440,160 470,150 490,140 C540,130 580,170 575,215 C570,250 560,270 555,300 L560,425 L515,425 L505,370 L495,425 L455,425 L460,350 C420,345 360,340 300,335 L290,430 L240,432 L235,380 L220,432 L170,430 L155,330 C140,300 120,250 100,180 Z" fill="#eeeeee" stroke="#d2d2d2" stroke-width="6"/>
<path d="M270,175 C330,160 400,160 460,170 C450,230 420,280 370,300 C330,315 290,325 250,330 C250,270 255,220 270,175 Z" fill="#505050"/>
<path d="M540,245 L565,255 L560,305 L545,300 Z" fill="#505050"/>
<path d="M60,120 C60,70 110,50 160,55 C210,55 255,80 260,130 C262,165 245,185 225,180 L90,170 C70,160 58,140 60,120 Z" fill="#454545"/>
<ellipse cx="152" cy="160" rx="55" ry="50" fill="#f0f0f0"/>
<path d="M150,58 L165,60 L168,115 L150,115 Z" fill="#e8e8e8"/>
<circle cx="152" cy="140" r="9" fill="#222"/>
</g>
<g id="pig" transform="translate(155,310) scale(0.08658)">
<path d="M92,240 C108,212 138,180 160,165 L162,98 C185,112 195,132 200,140 L215,88 C245,98 248,138 248,148 C300,125 450,102 560,112 C625,122 655,170 655,225 C652,265 645,295 638,318 L648,400 L614,402 L597,335 L587,400 L560,400 L558,325 C520,335 430,340 360,335 L335,402 L303,404 L303,345 L292,405 L262,400 L268,310 C240,288 180,270 98,260 Z" fill="#e8b7b7"/>
<path d="M215,100 C232,110 235,135 235,150" stroke="#dca0a0" stroke-width="8" fill="none"/>
<path d="M640,160 C650,140 645,130 635,130" stroke="#e0a8a8" stroke-width="8" fill="none"/>
<circle cx="175" cy="185" r="7" fill="#a87070"/>
</g>
<g id="sheep" transform="translate(210,325) scale(0.09737)">
<path d="M140,150 C200,120 300,115 400,125 C470,130 530,160 545,220 C550,270 535,300 520,320 L525,395 L500,400 L490,330 C440,320 380,310 300,305 L285,405 L255,410 L250,320 C220,300 190,270 175,240 C160,210 150,180 140,150 Z" fill="#d7ccb4"/>
<path d="M255,330 L258,395 M500,330 L510,385" stroke="#ebe5d6" stroke-width="26"/><path d="M248,402 L275,404 M498,392 L522,392" stroke="#6a6458" stroke-width="10"/>
<path d="M90,125 C110,95 160,85 200,90 L220,78 L228,100 C232,140 215,175 180,180 C140,180 100,160 90,125 Z" fill="#ddd5c2"/>
<path d="M92,118 C100,100 125,95 150,98 L150,160 C120,160 98,145 92,118 Z" fill="#f3f0e8"/>
</g>
<g id="deer" transform="translate(172,368) scale(0.12346)">
<g stroke="#b39d85" stroke-width="9" fill="none" stroke-linecap="round">
<path d="M268,150 C245,110 215,85 195,62"/><path d="M222,94 L225,40"/><path d="M240,118 L258,32"/><path d="M207,76 L188,72"/><path d="M250,70 L275,35"/>
<path d="M290,150 C315,120 322,95 312,58"/><path d="M308,118 L348,122"/><path d="M316,88 L340,95"/><path d="M312,70 L290,40"/>
</g>
<path d="M258,140 C280,128 322,138 350,158 L362,175 C342,186 312,186 300,196 C290,200 270,190 258,170 Z" fill="#8e735c"/>
<circle cx="356" cy="170" r="7" fill="#2e2e2e"/>
<path d="M35,240 C38,222 70,212 140,208 C170,206 190,205 205,203 C240,198 258,178 268,160 L298,195 C302,230 300,280 275,315 L268,320 L250,425 L262,435 L238,435 L236,330 L225,330 L222,425 L232,437 L208,436 L208,325 C170,322 120,325 85,320 C70,345 80,395 110,428 L118,436 L95,436 C65,405 55,370 60,345 L50,425 L60,437 L40,435 C35,390 40,345 40,320 C32,290 30,260 35,235 Z" fill="#8c6f58"/>
<path d="M270,210 C285,230 295,255 290,280" stroke="#a08670" stroke-width="8" fill="none"/>
<path d="M40,432 L62,434 M95,433 L118,434 M208,434 L232,434 M238,432 L262,432" stroke="#2e2e2e" stroke-width="9"/>
</g>

</svg></body></html>
